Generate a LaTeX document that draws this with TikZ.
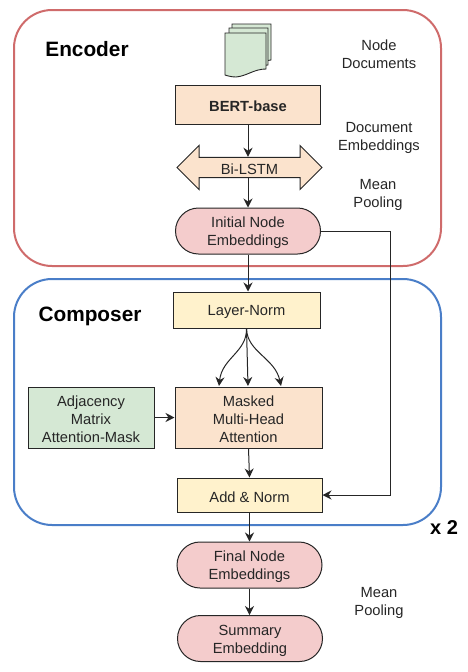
\documentclass[tikz,border=0pt]{standalone}
\usepackage{xcolor}
\usepackage{fontspec}
\setmainfont{Liberation Sans}
\usepackage{tikz}
\usetikzlibrary{shapes.arrows, shapes.misc, positioning, arrows.meta}

\definecolor{boxgreen}{HTML}{D5E8D4}
\definecolor{boxorange}{HTML}{FBE3CD}
\definecolor{boxred}{HTML}{F4CCCC}
\definecolor{boxyellow}{HTML}{FFF2CC}
\definecolor{lineblue}{HTML}{4A7EC8}
\definecolor{linered}{HTML}{CF6B6B}
\definecolor{inkgrey}{HTML}{262626}
\newcommand{\topgap}{\rule{0pt}{15pt}}

\begin{document}
\begin{tikzpicture}[
    x=1pt, y=-1pt,
    every node/.style={text=inkgrey, font=\fontsize{14.7}{18}\selectfont},
    box/.style={draw=inkgrey, line width=1pt, rectangle, align=center, inner sep=0pt},
    pill/.style={draw=inkgrey, line width=1pt, rounded rectangle, fill=boxred, align=center, inner sep=0pt, minimum width=145pt, minimum height=46pt},
    group/.style={line width=2pt, rounded corners=38pt},
    title/.style={font=\fontsize{20.8}{24}\selectfont\bfseries, text=black},
    note/.style={align=center},
    page/.style={draw=inkgrey, line width=0.9pt, fill=boxgreen},
    arrow/.style={-{Stealth[length=9pt,width=9pt]}, line width=1pt, draw=inkgrey}
]
    \useasboundingbox (0,0) rectangle (467,672);
    \draw [group, draw=linered] (14,10) rectangle (441,266);
    \draw [group, draw=lineblue] (14,279) rectangle (441,525);

    % document stack
    \draw [page] (232,24) -- (271,24) -- (271,60) .. controls (268,60) and (266,61) .. (262,62) -- (232,62) -- cycle;
    \draw [page] (229,28) -- (268,28) -- (268,65) .. controls (264,65) and (262,66) .. (258,67) -- (229,67) -- cycle;
    \draw [page] (225,33) -- (266,33) -- (266,69) .. controls (254,69) and (247,76) .. (236,77) .. controls (232,77) and (228,76) .. (225,75) -- cycle;

    \node (bert) [box, fill=boxorange, minimum width=145pt, minimum height=39pt] at (248,104.5) {\topgap\textbf{BERT-base}};
    \node (lstm) [draw=inkgrey, line width=1pt, fill=boxorange, double arrow, double arrow head extend=11pt, double arrow tip angle=90, double arrow head indent=0pt, inner sep=0pt, inner ysep=1.5pt, minimum width=44pt, minimum height=145pt] at (249.5,167.5) {\topgap Bi-LSTM};
    \node (initial) [pill] at (248,231) {\topgap Initial Node\\Embeddings};
    \node (lnorm) [box, fill=boxyellow, minimum width=147pt, minimum height=36pt] at (246.5,310) {\topgap Layer-Norm};
    \node (mha) [box, fill=boxorange, minimum width=147pt, minimum height=61pt] at (248.5,417.5) {\topgap Masked\\Multi-Head\\Attention};
    \node (adj) [box, fill=boxgreen, minimum width=126pt, minimum height=61pt] at (91,417.5) {\topgap Adjacency\\Matrix\\Attention-Mask};
    \node (addn) [box, fill=boxyellow, minimum width=145pt, minimum height=34pt] at (249.5,495) {\topgap Add \& Norm};
    \node (final) [pill] at (249.5,565) {\topgap Final Node\\Embeddings};
    \node (summary) [pill] at (250,638.5) {\topgap Summary\\Embedding};

    \node (enctitle) [title] at (87,49) {Encoder};
    \node (comptitle) [title] at (90,316) {Composer};
    \node (nodedocs) [note] at (379,54) {Node\\Documents};
    \node (docemb) [note] at (379,138) {Document\\Embeddings};
    \node (pool1) [note] at (378,195) {Mean\\Pooling};
    \node (pool2) [note] at (379,603) {Mean\\Pooling};
    \node (times) [font=\fontsize{20}{22}\selectfont\bfseries, text=black] at (444,528) {x 2};

    \draw [arrow] (bert.south) -- (bert.south |- lstm.north);
    \draw [arrow] (bert.south |- lstm.south) -- (initial.north);
    \draw [arrow] (initial.south) -- (initial.south |- lnorm.north);
    \draw [arrow] (lnorm.south) .. controls (247,352) and (222,358) .. (219,386);
    \draw [arrow] (lnorm.south) -- (248,386);
    \draw [arrow] (lnorm.south) .. controls (247,352) and (275,358) .. (281,386);
    \draw [arrow] (adj.east) -- (mha.west);
    \draw [arrow] (mha.south) -- (addn.north);
    \draw [arrow] (initial.east) -- (390,231) -- (390,495) -- (addn.east);
    \draw [arrow] (addn.south) -- (final.north);
    \draw [arrow] (final.south) -- (final.south |- summary.north);
\end{tikzpicture}
\end{document}
